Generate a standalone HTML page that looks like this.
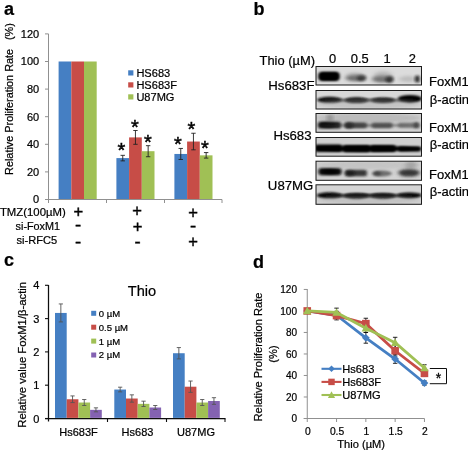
<!DOCTYPE html>
<html lang="en"><head><meta charset="utf-8"><title>Figure</title>
<style>html,body{margin:0;padding:0;background:#fff;}svg{display:block;}</style>
</head><body>
<svg width="468" height="451" viewBox="0 0 468 451" font-family="'Liberation Sans', Arial, sans-serif" fill="#000" xml:space="preserve">
<defs>
<filter id="b1" x="-30%" y="-60%" width="160%" height="220%"><feGaussianBlur stdDeviation="1.6 1.1"/></filter>
<filter id="b2" x="-30%" y="-60%" width="160%" height="220%"><feGaussianBlur stdDeviation="2.2 1.5"/></filter>
<filter id="tb" x="-5%" y="-5%" width="110%" height="110%"><feGaussianBlur stdDeviation="0.35"/></filter>
</defs>
<rect width="468" height="451" fill="#fff"/>
<g filter="url(#tb)">
<text x="4" y="14.5" font-size="18" text-anchor="start" font-weight="bold"  stroke="#000" stroke-width="0.22">a</text>
<text x="253.5" y="15" font-size="18" text-anchor="start" font-weight="bold"  stroke="#000" stroke-width="0.22">b</text>
<text x="4" y="266" font-size="18" text-anchor="start" font-weight="bold"  stroke="#000" stroke-width="0.22">c</text>
<text x="253" y="268" font-size="18" text-anchor="start" font-weight="bold"  stroke="#000" stroke-width="0.22">d</text>
<line x1="48.5" y1="33.900000000000006" x2="48.5" y2="199.5" stroke="#909090" stroke-width="1"/>
<line x1="45.0" y1="199.5" x2="222" y2="199.5" stroke="#909090" stroke-width="1"/>
<line x1="45.0" y1="199.5" x2="48.5" y2="199.5" stroke="#909090" stroke-width="1"/>
<text x="39.2" y="203.4" font-size="11" text-anchor="end" font-weight="normal"  stroke="#000" stroke-width="0.22">0</text>
<line x1="45.0" y1="171.9" x2="48.5" y2="171.9" stroke="#909090" stroke-width="1"/>
<text x="39.2" y="175.8" font-size="11" text-anchor="end" font-weight="normal"  stroke="#000" stroke-width="0.22">20</text>
<line x1="45.0" y1="144.3" x2="48.5" y2="144.3" stroke="#909090" stroke-width="1"/>
<text x="39.2" y="148.20000000000002" font-size="11" text-anchor="end" font-weight="normal"  stroke="#000" stroke-width="0.22">40</text>
<line x1="45.0" y1="116.7" x2="48.5" y2="116.7" stroke="#909090" stroke-width="1"/>
<text x="39.2" y="120.60000000000001" font-size="11" text-anchor="end" font-weight="normal"  stroke="#000" stroke-width="0.22">60</text>
<line x1="45.0" y1="89.10000000000001" x2="48.5" y2="89.10000000000001" stroke="#909090" stroke-width="1"/>
<text x="39.2" y="93.00000000000001" font-size="11" text-anchor="end" font-weight="normal"  stroke="#000" stroke-width="0.22">80</text>
<line x1="45.0" y1="61.5" x2="48.5" y2="61.5" stroke="#909090" stroke-width="1"/>
<text x="39.2" y="65.4" font-size="11" text-anchor="end" font-weight="normal"  stroke="#000" stroke-width="0.22">100</text>
<line x1="45.0" y1="33.900000000000006" x2="48.5" y2="33.900000000000006" stroke="#909090" stroke-width="1"/>
<text x="39.2" y="37.800000000000004" font-size="11" text-anchor="end" font-weight="normal"  stroke="#000" stroke-width="0.22">120</text>
<line x1="48.5" y1="199.5" x2="48.5" y2="203.0" stroke="#909090" stroke-width="1"/>
<line x1="106.5" y1="199.5" x2="106.5" y2="203.0" stroke="#909090" stroke-width="1"/>
<line x1="164.5" y1="199.5" x2="164.5" y2="203.0" stroke="#909090" stroke-width="1"/>
<line x1="222" y1="199.5" x2="222" y2="203.0" stroke="#909090" stroke-width="1"/>
<text transform="translate(13 174.9) rotate(-90)" font-size="10.85" text-anchor="start" stroke="#000" stroke-width="0.22">Relative Proliferation Rate</text>
<text transform="translate(13 40) rotate(-90)" font-size="10.85" text-anchor="start" stroke="#000" stroke-width="0.22">(%)</text>
<rect x="58.60" y="61.50" width="12.70" height="137.50" fill="#447fc3" />
<rect x="71.30" y="61.50" width="12.70" height="137.50" fill="#c74d47" />
<rect x="84.00" y="61.50" width="12.70" height="137.50" fill="#a0c054" />
<rect x="116.40" y="158.10" width="12.70" height="40.90" fill="#447fc3" />
<line x1="122.75" y1="155.34" x2="122.75" y2="160.86" stroke="#222" stroke-width="0.9"/>
<line x1="120.55" y1="155.34" x2="124.95" y2="155.34" stroke="#222" stroke-width="0.9"/>
<line x1="120.55" y1="160.86" x2="124.95" y2="160.86" stroke="#222" stroke-width="0.9"/>
<rect x="129.10" y="137.40" width="12.70" height="61.60" fill="#c74d47" />
<line x1="135.45" y1="130.5" x2="135.45" y2="144.3" stroke="#222" stroke-width="0.9"/>
<line x1="133.25" y1="130.5" x2="137.64999999999998" y2="130.5" stroke="#222" stroke-width="0.9"/>
<line x1="133.25" y1="144.3" x2="137.64999999999998" y2="144.3" stroke="#222" stroke-width="0.9"/>
<rect x="141.80" y="151.20" width="12.70" height="47.80" fill="#a0c054" />
<line x1="148.15" y1="145.68" x2="148.15" y2="156.72" stroke="#222" stroke-width="0.9"/>
<line x1="145.95000000000002" y1="145.68" x2="150.35" y2="145.68" stroke="#222" stroke-width="0.9"/>
<line x1="145.95000000000002" y1="156.72" x2="150.35" y2="156.72" stroke="#222" stroke-width="0.9"/>
<rect x="174.40" y="153.96" width="12.70" height="45.04" fill="#447fc3" />
<line x1="180.75" y1="148.44" x2="180.75" y2="159.48000000000002" stroke="#222" stroke-width="0.9"/>
<line x1="178.55" y1="148.44" x2="182.95" y2="148.44" stroke="#222" stroke-width="0.9"/>
<line x1="178.55" y1="159.48000000000002" x2="182.95" y2="159.48000000000002" stroke="#222" stroke-width="0.9"/>
<rect x="187.10" y="141.54" width="12.70" height="57.46" fill="#c74d47" />
<line x1="193.45" y1="133.26" x2="193.45" y2="149.82" stroke="#222" stroke-width="0.9"/>
<line x1="191.25" y1="133.26" x2="195.64999999999998" y2="133.26" stroke="#222" stroke-width="0.9"/>
<line x1="191.25" y1="149.82" x2="195.64999999999998" y2="149.82" stroke="#222" stroke-width="0.9"/>
<rect x="199.80" y="155.34" width="12.70" height="43.66" fill="#a0c054" />
<line x1="206.15" y1="152.58" x2="206.15" y2="158.1" stroke="#222" stroke-width="0.9"/>
<line x1="203.95000000000002" y1="152.58" x2="208.35" y2="152.58" stroke="#222" stroke-width="0.9"/>
<line x1="203.95000000000002" y1="158.1" x2="208.35" y2="158.1" stroke="#222" stroke-width="0.9"/>
<text x="121.5" y="157.35" font-size="20" text-anchor="middle" font-weight="normal" stroke="#000" stroke-width="0.45">*</text>
<text x="135" y="133.6" font-size="20" text-anchor="middle" font-weight="normal" stroke="#000" stroke-width="0.45">*</text>
<text x="148" y="148.6" font-size="20" text-anchor="middle" font-weight="normal" stroke="#000" stroke-width="0.45">*</text>
<text x="178" y="150.6" font-size="20" text-anchor="middle" font-weight="normal" stroke="#000" stroke-width="0.45">*</text>
<text x="191.5" y="135.6" font-size="20" text-anchor="middle" font-weight="normal" stroke="#000" stroke-width="0.45">*</text>
<text x="205" y="154.6" font-size="20" text-anchor="middle" font-weight="normal" stroke="#000" stroke-width="0.45">*</text>
<rect x="128.20" y="70.30" width="5.20" height="5.20" fill="#447fc3" />
<text x="136.4" y="76.80000000000001" font-size="11.05" text-anchor="start" font-weight="normal"  stroke="#000" stroke-width="0.22">HS683</text>
<rect x="128.20" y="82.30" width="5.20" height="5.20" fill="#c74d47" />
<text x="136.4" y="88.80000000000001" font-size="11.05" text-anchor="start" font-weight="normal"  stroke="#000" stroke-width="0.22">HS683F</text>
<rect x="128.20" y="94.30" width="5.20" height="5.20" fill="#a0c054" />
<text x="136.4" y="100.80000000000001" font-size="11.05" text-anchor="start" font-weight="normal"  stroke="#000" stroke-width="0.22">U87MG</text>
<text x="65.7" y="215.7" font-size="11.35" text-anchor="end" font-weight="normal"  stroke="#000" stroke-width="0.22">TMZ(100µM)</text>
<text x="60" y="229.8" font-size="10.8" text-anchor="end" font-weight="normal"  stroke="#000" stroke-width="0.22">si-FoxM1</text>
<text x="57.2" y="244.2" font-size="11.1" text-anchor="end" font-weight="normal"  stroke="#000" stroke-width="0.22">si-RFC5</text>
<text x="78.2" y="217.10000000000002" font-size="16.5" text-anchor="middle" font-weight="normal" stroke="#111" stroke-width="0.5">+</text>
<text x="78" y="231.4" font-size="18.5" text-anchor="middle" font-weight="normal" stroke="#111" stroke-width="0.5">-</text>
<text x="78" y="247.9" font-size="18.5" text-anchor="middle" font-weight="normal" stroke="#111" stroke-width="0.5">-</text>
<text x="137" y="216.3" font-size="16.5" text-anchor="middle" font-weight="normal" stroke="#111" stroke-width="0.5">+</text>
<text x="137.5" y="232.3" font-size="16.5" text-anchor="middle" font-weight="normal" stroke="#111" stroke-width="0.5">+</text>
<text x="137.5" y="247.9" font-size="18.5" text-anchor="middle" font-weight="normal" stroke="#111" stroke-width="0.5">-</text>
<text x="193" y="218.3" font-size="16.5" text-anchor="middle" font-weight="normal" stroke="#111" stroke-width="0.5">+</text>
<text x="193" y="231.9" font-size="18.5" text-anchor="middle" font-weight="normal" stroke="#111" stroke-width="0.5">-</text>
<text x="193" y="247.10000000000002" font-size="16.5" text-anchor="middle" font-weight="normal" stroke="#111" stroke-width="0.5">+</text>
<text x="315" y="64.7" font-size="12.9" text-anchor="end" font-weight="normal"  stroke="#000" stroke-width="0.22">Thio (µM)</text>
<text x="332.7" y="62.9" font-size="12.9" text-anchor="middle" font-weight="normal"  stroke="#000" stroke-width="0.22">0</text>
<text x="359.7" y="62.9" font-size="12.9" text-anchor="middle" font-weight="normal"  stroke="#000" stroke-width="0.22">0.5</text>
<text x="387" y="62.9" font-size="12.9" text-anchor="middle" font-weight="normal"  stroke="#000" stroke-width="0.22">1</text>
<text x="412.4" y="62.9" font-size="12.9" text-anchor="middle" font-weight="normal"  stroke="#000" stroke-width="0.22">2</text>
<text x="314.5" y="90" font-size="13.2" text-anchor="end" font-weight="normal"  stroke="#000" stroke-width="0.22">Hs683F</text>
<text x="311.5" y="139.5" font-size="13.2" text-anchor="end" font-weight="normal"  stroke="#000" stroke-width="0.22">Hs683</text>
<text x="313.3" y="190" font-size="13.2" text-anchor="end" font-weight="normal"  stroke="#000" stroke-width="0.22">U87MG</text>
<text x="429.1" y="86.4" font-size="13" text-anchor="start" font-weight="normal"  stroke="#000" stroke-width="0.22">FoxM1</text>
<text x="429.8" y="103.8" font-size="13" text-anchor="start" font-weight="normal"  stroke="#000" stroke-width="0.22">β-actin</text>
<text x="429.1" y="131.70000000000002" font-size="13" text-anchor="start" font-weight="normal"  stroke="#000" stroke-width="0.22">FoxM1</text>
<text x="429.8" y="148.8" font-size="13" text-anchor="start" font-weight="normal"  stroke="#000" stroke-width="0.22">β-actin</text>
<text x="429.1" y="179.20000000000002" font-size="13" text-anchor="start" font-weight="normal"  stroke="#000" stroke-width="0.22">FoxM1</text>
<text x="429.8" y="196.3" font-size="13" text-anchor="start" font-weight="normal"  stroke="#000" stroke-width="0.22">β-actin</text>
</g>
<clipPath id="c0"><rect x="316" y="66.5" width="105.5" height="18.5"/></clipPath>
<rect x="316" y="66.5" width="105.5" height="18.5" fill="#dcdcdc"/>
<g clip-path="url(#c0)">
<rect x="318.5" y="71.7" width="21.0" height="9.2" rx="3.6799999999999997" fill="#000" opacity="1" filter="url(#b1)"/>
<rect x="320" y="72.89999999999999" width="18" height="6.8" rx="2.72" fill="#000" opacity="1" filter="url(#b1)"/>
<ellipse cx="355.5" cy="78" rx="10" ry="3.3" fill="#3a3a3a" opacity="0.7" filter="url(#b2)"/>
<ellipse cx="361.5" cy="78" rx="4.5" ry="3.2" fill="#111" opacity="0.6" filter="url(#b1)"/>
<ellipse cx="355" cy="75" rx="9" ry="3" fill="#888" opacity="0.3" filter="url(#b2)"/>
<ellipse cx="382" cy="79" rx="10" ry="3.6" fill="#444" opacity="0.7" filter="url(#b2)"/>
<ellipse cx="389.5" cy="79.3" rx="4" ry="3.6" fill="#111" opacity="0.7" filter="url(#b1)"/>
<ellipse cx="383" cy="75" rx="9" ry="4" fill="#888" opacity="0.35" filter="url(#b2)"/>
<ellipse cx="408" cy="79" rx="9" ry="3" fill="#777" opacity="0.3" filter="url(#b2)"/>
<ellipse cx="417.3" cy="79" rx="2.4" ry="3.8" fill="#111" opacity="0.85" filter="url(#b1)"/>
</g>
<rect x="316" y="66.5" width="105.5" height="18.5" fill="none" stroke="#1a1a1a" stroke-width="1" filter="url(#tb)"/>
<clipPath id="c1"><rect x="316" y="90.5" width="105.5" height="18.5"/></clipPath>
<rect x="316" y="90.5" width="105.5" height="18.5" fill="#d8d8d8"/>
<g clip-path="url(#c1)">
<ellipse cx="329.5" cy="99.8" rx="12.5" ry="3.0" fill="#111" opacity="1" filter="url(#b1)"/>
<ellipse cx="356.5" cy="100.2" rx="12" ry="2.9" fill="#111" opacity="1" filter="url(#b1)"/>
<ellipse cx="383" cy="100.2" rx="12" ry="2.8" fill="#111" opacity="1" filter="url(#b1)"/>
<ellipse cx="410" cy="98.8" rx="12" ry="3.9" fill="#050505" opacity="1" filter="url(#b1)"/>
<ellipse cx="369" cy="100.2" rx="50" ry="1.4" fill="#222" opacity="0.8" filter="url(#b1)"/>
<ellipse cx="369" cy="104" rx="52" ry="5" fill="#999" opacity="0.3" filter="url(#b2)"/>
</g>
<rect x="316" y="90.5" width="105.5" height="18.5" fill="none" stroke="#1a1a1a" stroke-width="1" filter="url(#tb)"/>
<clipPath id="c2"><rect x="316" y="113.5" width="105.5" height="18.80000000000001"/></clipPath>
<rect x="316" y="113.5" width="105.5" height="18.80000000000001" fill="#d2d2d2"/>
<g clip-path="url(#c2)">
<rect x="318.0" y="121.4" width="23.0" height="7.2" rx="2.8800000000000003" fill="#111" opacity="0.95" filter="url(#b1)"/>
<ellipse cx="328" cy="125" rx="8" ry="2.8" fill="#000" opacity="0.7" filter="url(#b1)"/>
<rect x="345" y="122.3" width="22" height="6.0" rx="2.4000000000000004" fill="#222" opacity="0.8" filter="url(#b1)"/>
<ellipse cx="349" cy="125.3" rx="4.5" ry="3.2" fill="#111" opacity="0.7" filter="url(#b1)"/>
<rect x="371.5" y="122.39999999999999" width="21.0" height="5.8" rx="2.32" fill="#333" opacity="0.75" filter="url(#b1)"/>
<rect x="398.0" y="122.5" width="21.0" height="5.6" rx="2.2399999999999998" fill="#444" opacity="0.55" filter="url(#b1)"/>
<ellipse cx="416.5" cy="125.3" rx="3" ry="3.2" fill="#222" opacity="0.6" filter="url(#b1)"/>
<ellipse cx="369" cy="125.3" rx="50" ry="1.6" fill="#444" opacity="0.5" filter="url(#b1)"/>
<ellipse cx="369" cy="118" rx="52" ry="5" fill="#999" opacity="0.4" filter="url(#b2)"/>
<ellipse cx="330" cy="118" rx="3" ry="4" fill="#666" opacity="0.5" filter="url(#b2)"/>
</g>
<rect x="316" y="113.5" width="105.5" height="18.80000000000001" fill="none" stroke="#1a1a1a" stroke-width="1" filter="url(#tb)"/>
<clipPath id="c3"><rect x="316" y="137.5" width="105.5" height="18.69999999999999"/></clipPath>
<rect x="316" y="137.5" width="105.5" height="18.69999999999999" fill="#cfcfcf"/>
<g clip-path="url(#c3)">
<rect x="314.5" y="144.5" width="28" height="7.4" rx="2.9600000000000004" fill="#000" opacity="1" filter="url(#b1)"/>
<rect x="342.5" y="144.9" width="28" height="7.4" rx="2.9600000000000004" fill="#000" opacity="1" filter="url(#b1)"/>
<rect x="370" y="145.1" width="26" height="7.0" rx="2.8000000000000003" fill="#000" opacity="1" filter="url(#b1)"/>
<rect x="398.0" y="146.4" width="23.0" height="5.2" rx="2.08" fill="#000" opacity="1" filter="url(#b1)"/>
<ellipse cx="369" cy="148.6" rx="52" ry="2.6" fill="#000" opacity="1" filter="url(#b1)"/>
</g>
<rect x="316" y="137.5" width="105.5" height="18.69999999999999" fill="none" stroke="#1a1a1a" stroke-width="1" filter="url(#tb)"/>
<clipPath id="c4"><rect x="316" y="161.2" width="105.5" height="19.100000000000023"/></clipPath>
<rect x="316" y="161.2" width="105.5" height="19.100000000000023" fill="#d3d3d3"/>
<g clip-path="url(#c4)">
<rect x="318.5" y="168.0" width="23.0" height="7.2" rx="2.8800000000000003" fill="#0a0a0a" opacity="1" filter="url(#b1)"/>
<ellipse cx="330" cy="171.6" rx="8" ry="2.6" fill="#000" opacity="0.8" filter="url(#b1)"/>
<rect x="345" y="169.8" width="22" height="6.4" rx="2.5600000000000005" fill="#1a1a1a" opacity="0.85" filter="url(#b1)"/>
<ellipse cx="350" cy="173.2" rx="5" ry="3" fill="#111" opacity="0.6" filter="url(#b1)"/>
<ellipse cx="382" cy="173.5" rx="10" ry="2.9" fill="#444" opacity="0.7" filter="url(#b1)"/>
<ellipse cx="377" cy="173.5" rx="3.8" ry="2.6" fill="#222" opacity="0.55" filter="url(#b1)"/>
<ellipse cx="409" cy="172.8" rx="11" ry="4.0" fill="#333" opacity="0.8" filter="url(#b2)"/>
<ellipse cx="409" cy="172.8" rx="9" ry="2.4" fill="#222" opacity="0.6" filter="url(#b1)"/>
<ellipse cx="369" cy="165" rx="52" ry="4" fill="#aaa" opacity="0.35" filter="url(#b2)"/>
<ellipse cx="411" cy="165" rx="6" ry="4" fill="#777" opacity="0.4" filter="url(#b2)"/>
</g>
<rect x="316" y="161.2" width="105.5" height="19.100000000000023" fill="none" stroke="#1a1a1a" stroke-width="1" filter="url(#tb)"/>
<clipPath id="c5"><rect x="316" y="184.8" width="105.5" height="19.5"/></clipPath>
<rect x="316" y="184.8" width="105.5" height="19.5" fill="#d4d4d4"/>
<g clip-path="url(#c5)">
<ellipse cx="329.5" cy="195.3" rx="13" ry="3.0" fill="#0a0a0a" opacity="1" filter="url(#b1)"/>
<ellipse cx="356.5" cy="195.8" rx="13" ry="2.9" fill="#0a0a0a" opacity="1" filter="url(#b1)"/>
<ellipse cx="383" cy="195.8" rx="13" ry="2.9" fill="#0a0a0a" opacity="1" filter="url(#b1)"/>
<ellipse cx="409.5" cy="195.3" rx="12.5" ry="2.9" fill="#0a0a0a" opacity="1" filter="url(#b1)"/>
<ellipse cx="369" cy="195.7" rx="50" ry="1.6" fill="#111" opacity="0.9" filter="url(#b1)"/>
<ellipse cx="369" cy="200" rx="52" ry="4" fill="#999" opacity="0.3" filter="url(#b2)"/>
</g>
<rect x="316" y="184.8" width="105.5" height="19.5" fill="none" stroke="#1a1a1a" stroke-width="1" filter="url(#tb)"/>
<g filter="url(#tb)">
<line x1="48.5" y1="285" x2="48.5" y2="421.5" stroke="#111" stroke-width="1.25"/>
<line x1="45.0" y1="418.5" x2="225.5" y2="418.5" stroke="#111" stroke-width="1.25"/>
<line x1="45.0" y1="418.5" x2="48.5" y2="418.5" stroke="#111" stroke-width="1.1"/>
<text x="39.4" y="422.5" font-size="11" text-anchor="end" font-weight="normal"  stroke="#000" stroke-width="0.22">0</text>
<line x1="45.0" y1="385.2" x2="48.5" y2="385.2" stroke="#111" stroke-width="1.1"/>
<text x="39.4" y="389.2" font-size="11" text-anchor="end" font-weight="normal"  stroke="#000" stroke-width="0.22">1</text>
<line x1="45.0" y1="351.9" x2="48.5" y2="351.9" stroke="#111" stroke-width="1.1"/>
<text x="39.4" y="355.9" font-size="11" text-anchor="end" font-weight="normal"  stroke="#000" stroke-width="0.22">2</text>
<line x1="45.0" y1="318.6" x2="48.5" y2="318.6" stroke="#111" stroke-width="1.1"/>
<text x="39.4" y="322.6" font-size="11" text-anchor="end" font-weight="normal"  stroke="#000" stroke-width="0.22">3</text>
<line x1="45.0" y1="285.3" x2="48.5" y2="285.3" stroke="#111" stroke-width="1.1"/>
<text x="39.4" y="289.3" font-size="11" text-anchor="end" font-weight="normal"  stroke="#000" stroke-width="0.22">4</text>
<line x1="107.5" y1="418.5" x2="107.5" y2="422.0" stroke="#111" stroke-width="1.1"/>
<line x1="166.5" y1="418.5" x2="166.5" y2="422.0" stroke="#111" stroke-width="1.1"/>
<line x1="225" y1="418.5" x2="225" y2="422.0" stroke="#111" stroke-width="1.1"/>
<text transform="translate(26 354.8) rotate(-90)" font-size="11.3" text-anchor="middle" stroke="#000" stroke-width="0.22">Relative value FoxM1/β-actin</text>
<rect x="55.00" y="312.94" width="11.70" height="104.96" fill="#447fc3" />
<line x1="60.85" y1="303.948" x2="60.85" y2="321.93" stroke="#555" stroke-width="0.9"/>
<line x1="58.75" y1="303.948" x2="62.95" y2="303.948" stroke="#555" stroke-width="0.9"/>
<line x1="58.75" y1="321.93" x2="62.95" y2="321.93" stroke="#555" stroke-width="0.9"/>
<rect x="66.70" y="399.25" width="11.70" height="18.65" fill="#c74d47" />
<line x1="72.55" y1="395.9226" x2="72.55" y2="402.5826" stroke="#555" stroke-width="0.9"/>
<line x1="70.45" y1="395.9226" x2="74.64999999999999" y2="395.9226" stroke="#555" stroke-width="0.9"/>
<line x1="70.45" y1="402.5826" x2="74.64999999999999" y2="402.5826" stroke="#555" stroke-width="0.9"/>
<rect x="78.40" y="402.52" width="11.70" height="15.38" fill="#a0c054" />
<line x1="84.25" y1="399.519" x2="84.25" y2="405.513" stroke="#555" stroke-width="0.9"/>
<line x1="82.15" y1="399.519" x2="86.35" y2="399.519" stroke="#555" stroke-width="0.9"/>
<line x1="82.15" y1="405.513" x2="86.35" y2="405.513" stroke="#555" stroke-width="0.9"/>
<rect x="90.10" y="409.84" width="11.70" height="8.06" fill="#8462b2" />
<line x1="95.94999999999999" y1="407.844" x2="95.94999999999999" y2="411.84" stroke="#555" stroke-width="0.9"/>
<line x1="93.85" y1="407.844" x2="98.04999999999998" y2="407.844" stroke="#555" stroke-width="0.9"/>
<line x1="93.85" y1="411.84" x2="98.04999999999998" y2="411.84" stroke="#555" stroke-width="0.9"/>
<rect x="114.30" y="389.53" width="11.70" height="28.37" fill="#447fc3" />
<line x1="120.14999999999999" y1="387.198" x2="120.14999999999999" y2="391.86" stroke="#555" stroke-width="0.9"/>
<line x1="118.05" y1="387.198" x2="122.24999999999999" y2="387.198" stroke="#555" stroke-width="0.9"/>
<line x1="118.05" y1="391.86" x2="122.24999999999999" y2="391.86" stroke="#555" stroke-width="0.9"/>
<rect x="126.00" y="398.52" width="11.70" height="19.38" fill="#c74d47" />
<line x1="131.85" y1="394.857" x2="131.85" y2="402.183" stroke="#555" stroke-width="0.9"/>
<line x1="129.75" y1="394.857" x2="133.95" y2="394.857" stroke="#555" stroke-width="0.9"/>
<line x1="129.75" y1="402.183" x2="133.95" y2="402.183" stroke="#555" stroke-width="0.9"/>
<rect x="137.70" y="403.85" width="11.70" height="14.05" fill="#a0c054" />
<line x1="143.54999999999998" y1="401.184" x2="143.54999999999998" y2="406.512" stroke="#555" stroke-width="0.9"/>
<line x1="141.45" y1="401.184" x2="145.64999999999998" y2="401.184" stroke="#555" stroke-width="0.9"/>
<line x1="141.45" y1="406.512" x2="145.64999999999998" y2="406.512" stroke="#555" stroke-width="0.9"/>
<rect x="149.40" y="407.51" width="11.70" height="10.39" fill="#8462b2" />
<line x1="155.24999999999997" y1="405.513" x2="155.24999999999997" y2="409.509" stroke="#555" stroke-width="0.9"/>
<line x1="153.14999999999998" y1="405.513" x2="157.34999999999997" y2="405.513" stroke="#555" stroke-width="0.9"/>
<line x1="153.14999999999998" y1="409.509" x2="157.34999999999997" y2="409.509" stroke="#555" stroke-width="0.9"/>
<rect x="173.00" y="353.23" width="11.70" height="64.67" fill="#447fc3" />
<line x1="178.85" y1="347.571" x2="178.85" y2="358.89300000000003" stroke="#555" stroke-width="0.9"/>
<line x1="176.75" y1="347.571" x2="180.95" y2="347.571" stroke="#555" stroke-width="0.9"/>
<line x1="176.75" y1="358.89300000000003" x2="180.95" y2="358.89300000000003" stroke="#555" stroke-width="0.9"/>
<rect x="184.70" y="386.70" width="11.70" height="31.20" fill="#c74d47" />
<line x1="190.54999999999998" y1="381.0375" x2="190.54999999999998" y2="392.3595" stroke="#555" stroke-width="0.9"/>
<line x1="188.45" y1="381.0375" x2="192.64999999999998" y2="381.0375" stroke="#555" stroke-width="0.9"/>
<line x1="188.45" y1="392.3595" x2="192.64999999999998" y2="392.3595" stroke="#555" stroke-width="0.9"/>
<rect x="196.40" y="402.52" width="11.70" height="15.38" fill="#a0c054" />
<line x1="202.25" y1="399.519" x2="202.25" y2="405.513" stroke="#555" stroke-width="0.9"/>
<line x1="200.15" y1="399.519" x2="204.35" y2="399.519" stroke="#555" stroke-width="0.9"/>
<line x1="200.15" y1="405.513" x2="204.35" y2="405.513" stroke="#555" stroke-width="0.9"/>
<rect x="208.10" y="401.02" width="11.70" height="16.88" fill="#8462b2" />
<line x1="213.95" y1="397.6875" x2="213.95" y2="404.3475" stroke="#555" stroke-width="0.9"/>
<line x1="211.85" y1="397.6875" x2="216.04999999999998" y2="397.6875" stroke="#555" stroke-width="0.9"/>
<line x1="211.85" y1="404.3475" x2="216.04999999999998" y2="404.3475" stroke="#555" stroke-width="0.9"/>
<text x="142" y="296.1" font-size="14.6" text-anchor="middle" font-weight="normal"  stroke="#000" stroke-width="0.22">Thio</text>
<rect x="91.20" y="310.80" width="5.00" height="5.00" fill="#447fc3" />
<text x="98.8" y="316.7" font-size="9.5" text-anchor="start" font-weight="normal"  stroke="#000" stroke-width="0.22">0 µM</text>
<rect x="91.20" y="324.70" width="5.00" height="5.00" fill="#c74d47" />
<text x="98.8" y="330.59999999999997" font-size="9.5" text-anchor="start" font-weight="normal"  stroke="#000" stroke-width="0.22">0.5 µM</text>
<rect x="91.20" y="338.60" width="5.00" height="5.00" fill="#a0c054" />
<text x="98.8" y="344.5" font-size="9.5" text-anchor="start" font-weight="normal"  stroke="#000" stroke-width="0.22">1 µM</text>
<rect x="91.20" y="352.50" width="5.00" height="5.00" fill="#8462b2" />
<text x="98.8" y="358.4" font-size="9.5" text-anchor="start" font-weight="normal"  stroke="#000" stroke-width="0.22">2 µM</text>
<text x="78.5" y="435.5" font-size="11" text-anchor="middle" font-weight="normal"  stroke="#000" stroke-width="0.22">Hs683F</text>
<text x="137.5" y="435.5" font-size="11" text-anchor="middle" font-weight="normal"  stroke="#000" stroke-width="0.22">Hs683</text>
<text x="196" y="435.5" font-size="11" text-anchor="middle" font-weight="normal"  stroke="#000" stroke-width="0.22">U87MG</text>
<line x1="307.25" y1="289" x2="307.25" y2="418.5" stroke="#909090" stroke-width="1"/>
<line x1="303.75" y1="418.5" x2="424.5" y2="418.5" stroke="#909090" stroke-width="1"/>
<line x1="303.75" y1="418.5" x2="307.25" y2="418.5" stroke="#909090" stroke-width="1"/>
<text x="297" y="422.1" font-size="10" text-anchor="end" font-weight="normal"  stroke="#000" stroke-width="0.22">0</text>
<line x1="303.75" y1="396.99" x2="307.25" y2="396.99" stroke="#909090" stroke-width="1"/>
<text x="297" y="400.59000000000003" font-size="10" text-anchor="end" font-weight="normal"  stroke="#000" stroke-width="0.22">20</text>
<line x1="303.75" y1="375.48" x2="307.25" y2="375.48" stroke="#909090" stroke-width="1"/>
<text x="297" y="379.08000000000004" font-size="10" text-anchor="end" font-weight="normal"  stroke="#000" stroke-width="0.22">40</text>
<line x1="303.75" y1="353.97" x2="307.25" y2="353.97" stroke="#909090" stroke-width="1"/>
<text x="297" y="357.57000000000005" font-size="10" text-anchor="end" font-weight="normal"  stroke="#000" stroke-width="0.22">60</text>
<line x1="303.75" y1="332.46000000000004" x2="307.25" y2="332.46000000000004" stroke="#909090" stroke-width="1"/>
<text x="297" y="336.06000000000006" font-size="10" text-anchor="end" font-weight="normal"  stroke="#000" stroke-width="0.22">80</text>
<line x1="303.75" y1="310.95000000000005" x2="307.25" y2="310.95000000000005" stroke="#909090" stroke-width="1"/>
<text x="297" y="314.55000000000007" font-size="10" text-anchor="end" font-weight="normal"  stroke="#000" stroke-width="0.22">100</text>
<line x1="303.75" y1="289.44" x2="307.25" y2="289.44" stroke="#909090" stroke-width="1"/>
<text x="297" y="293.04" font-size="10" text-anchor="end" font-weight="normal"  stroke="#000" stroke-width="0.22">120</text>
<line x1="307.25" y1="418.5" x2="307.25" y2="422.0" stroke="#909090" stroke-width="1"/>
<text x="307.75" y="434.5" font-size="10.3" text-anchor="middle" font-weight="normal"  stroke="#000" stroke-width="0.22">0</text>
<line x1="336.55" y1="418.5" x2="336.55" y2="422.0" stroke="#909090" stroke-width="1"/>
<text x="337.05" y="434.5" font-size="10.3" text-anchor="middle" font-weight="normal"  stroke="#000" stroke-width="0.22">0.5</text>
<line x1="365.85" y1="418.5" x2="365.85" y2="422.0" stroke="#909090" stroke-width="1"/>
<text x="366.35" y="434.5" font-size="10.3" text-anchor="middle" font-weight="normal"  stroke="#000" stroke-width="0.22">1</text>
<line x1="395.15" y1="418.5" x2="395.15" y2="422.0" stroke="#909090" stroke-width="1"/>
<text x="395.65" y="434.5" font-size="10.3" text-anchor="middle" font-weight="normal"  stroke="#000" stroke-width="0.22">1.5</text>
<line x1="424.45" y1="418.5" x2="424.45" y2="422.0" stroke="#909090" stroke-width="1"/>
<text x="424.95" y="434.5" font-size="10.3" text-anchor="middle" font-weight="normal"  stroke="#000" stroke-width="0.22">2</text>
<text x="361.2" y="447.5" font-size="11.1" text-anchor="middle" font-weight="normal"  stroke="#000" stroke-width="0.22">Thio (µM)</text>
<text transform="translate(262 357) rotate(-90)" font-size="11.1" text-anchor="middle" stroke="#000" stroke-width="0.22">Relative Proliferation Rate</text>
<text transform="translate(276.7 354) rotate(-90)" font-size="11.1" text-anchor="middle" stroke="#000" stroke-width="0.22">(%)</text>
<line x1="336.55" y1="312.0255" x2="336.55" y2="318.4785" stroke="#111" stroke-width="0.9"/>
<line x1="334.35" y1="312.0255" x2="338.75" y2="312.0255" stroke="#111" stroke-width="0.9"/>
<line x1="334.35" y1="318.4785" x2="338.75" y2="318.4785" stroke="#111" stroke-width="0.9"/>
<line x1="365.85" y1="332.46000000000004" x2="365.85" y2="343.21500000000003" stroke="#111" stroke-width="0.9"/>
<line x1="363.65000000000003" y1="332.46000000000004" x2="368.05" y2="332.46000000000004" stroke="#111" stroke-width="0.9"/>
<line x1="363.65000000000003" y1="343.21500000000003" x2="368.05" y2="343.21500000000003" stroke="#111" stroke-width="0.9"/>
<line x1="395.15" y1="354.72285" x2="395.15" y2="363.32685000000004" stroke="#111" stroke-width="0.9"/>
<line x1="392.95" y1="354.72285" x2="397.34999999999997" y2="354.72285" stroke="#111" stroke-width="0.9"/>
<line x1="392.95" y1="363.32685000000004" x2="397.34999999999997" y2="363.32685000000004" stroke="#111" stroke-width="0.9"/>
<line x1="424.45" y1="380.8575" x2="424.45" y2="385.1595" stroke="#111" stroke-width="0.9"/>
<line x1="422.25" y1="380.8575" x2="426.65" y2="380.8575" stroke="#111" stroke-width="0.9"/>
<line x1="422.25" y1="385.1595" x2="426.65" y2="385.1595" stroke="#111" stroke-width="0.9"/>
<line x1="336.55" y1="311.27265" x2="336.55" y2="319.87665000000004" stroke="#111" stroke-width="0.9"/>
<line x1="334.35" y1="311.27265" x2="338.75" y2="311.27265" stroke="#111" stroke-width="0.9"/>
<line x1="334.35" y1="319.87665000000004" x2="338.75" y2="319.87665000000004" stroke="#111" stroke-width="0.9"/>
<line x1="365.85" y1="318.2634" x2="365.85" y2="329.0184" stroke="#111" stroke-width="0.9"/>
<line x1="363.65000000000003" y1="318.2634" x2="368.05" y2="318.2634" stroke="#111" stroke-width="0.9"/>
<line x1="363.65000000000003" y1="329.0184" x2="368.05" y2="329.0184" stroke="#111" stroke-width="0.9"/>
<line x1="395.15" y1="345.366" x2="395.15" y2="356.121" stroke="#111" stroke-width="0.9"/>
<line x1="392.95" y1="345.366" x2="397.34999999999997" y2="345.366" stroke="#111" stroke-width="0.9"/>
<line x1="392.95" y1="356.121" x2="397.34999999999997" y2="356.121" stroke="#111" stroke-width="0.9"/>
<line x1="424.45" y1="370.1025" x2="424.45" y2="376.5555" stroke="#111" stroke-width="0.9"/>
<line x1="422.25" y1="370.1025" x2="426.65" y2="370.1025" stroke="#111" stroke-width="0.9"/>
<line x1="422.25" y1="376.5555" x2="426.65" y2="376.5555" stroke="#111" stroke-width="0.9"/>
<line x1="336.55" y1="308.1537" x2="336.55" y2="316.7577" stroke="#111" stroke-width="0.9"/>
<line x1="334.35" y1="308.1537" x2="338.75" y2="308.1537" stroke="#111" stroke-width="0.9"/>
<line x1="334.35" y1="316.7577" x2="338.75" y2="316.7577" stroke="#111" stroke-width="0.9"/>
<line x1="365.85" y1="323.856" x2="365.85" y2="332.46000000000004" stroke="#111" stroke-width="0.9"/>
<line x1="363.65000000000003" y1="323.856" x2="368.05" y2="323.856" stroke="#111" stroke-width="0.9"/>
<line x1="363.65000000000003" y1="332.46000000000004" x2="368.05" y2="332.46000000000004" stroke="#111" stroke-width="0.9"/>
<line x1="395.15" y1="337.29975" x2="395.15" y2="348.05475" stroke="#111" stroke-width="0.9"/>
<line x1="392.95" y1="337.29975" x2="397.34999999999997" y2="337.29975" stroke="#111" stroke-width="0.9"/>
<line x1="392.95" y1="348.05475" x2="397.34999999999997" y2="348.05475" stroke="#111" stroke-width="0.9"/>
<line x1="424.45" y1="364.725" x2="424.45" y2="371.178" stroke="#111" stroke-width="0.9"/>
<line x1="422.25" y1="364.725" x2="426.65" y2="364.725" stroke="#111" stroke-width="0.9"/>
<line x1="422.25" y1="371.178" x2="426.65" y2="371.178" stroke="#111" stroke-width="0.9"/>
<polyline fill="none" stroke="#447fc3" stroke-width="2.8" stroke-linejoin="round" points="307.25,310.95 336.55,315.25 365.85,337.84 395.15,359.02 424.45,383.01"/>
<path d="M303.35 310.95 L307.25 307.05 L311.15 310.95 L307.25 314.85Z" fill="#447fc3"/>
<path d="M332.65 315.25 L336.55 311.35 L340.45 315.25 L336.55 319.15Z" fill="#447fc3"/>
<path d="M361.95 337.84 L365.85 333.94 L369.75 337.84 L365.85 341.74Z" fill="#447fc3"/>
<path d="M391.25 359.02 L395.15 355.12 L399.05 359.02 L395.15 362.92Z" fill="#447fc3"/>
<path d="M420.55 383.01 L424.45 379.11 L428.35 383.01 L424.45 386.91Z" fill="#447fc3"/>
<polyline fill="none" stroke="#c74d47" stroke-width="2.8" stroke-linejoin="round" points="307.25,310.95 336.55,315.57 365.85,323.64 395.15,350.74 424.45,373.33"/>
<rect x="303.45" y="307.15" width="7.60" height="7.60" fill="#c74d47" />
<rect x="332.75" y="311.77" width="7.60" height="7.60" fill="#c74d47" />
<rect x="362.05" y="319.84" width="7.60" height="7.60" fill="#c74d47" />
<rect x="391.35" y="346.94" width="7.60" height="7.60" fill="#c74d47" />
<rect x="420.65" y="369.53" width="7.60" height="7.60" fill="#c74d47" />
<polyline fill="none" stroke="#a0c054" stroke-width="2.8" stroke-linejoin="round" points="307.25,310.95 336.55,312.46 365.85,328.16 395.15,342.68 424.45,367.95"/>
<path d="M303.05 314.35 L307.25 306.65 L311.45 314.35Z" fill="#a0c054"/>
<path d="M332.35 315.86 L336.55 308.16 L340.75 315.86Z" fill="#a0c054"/>
<path d="M361.65 331.56 L365.85 323.86 L370.05 331.56Z" fill="#a0c054"/>
<path d="M390.95 346.08 L395.15 338.38 L399.35 346.08Z" fill="#a0c054"/>
<path d="M420.25 371.35 L424.45 363.65 L428.65 371.35Z" fill="#a0c054"/>
<line x1="321.5" y1="368.8" x2="341.5" y2="368.8" stroke="#447fc3" stroke-width="2.1"/>
<path d="M328.19 368.80 L331.50 365.49 L334.81 368.80 L331.50 372.12Z" fill="#447fc3"/>
<text x="342.3" y="372.7" font-size="11.1" text-anchor="start" font-weight="normal"  stroke="#000" stroke-width="0.22">Hs683</text>
<line x1="321.5" y1="381.90000000000003" x2="341.5" y2="381.90000000000003" stroke="#c74d47" stroke-width="2.1"/>
<rect x="328.27" y="378.67" width="6.46" height="6.46" fill="#c74d47" />
<text x="342.3" y="385.8" font-size="11.1" text-anchor="start" font-weight="normal"  stroke="#000" stroke-width="0.22">Hs683F</text>
<line x1="321.5" y1="395.0" x2="341.5" y2="395.0" stroke="#a0c054" stroke-width="2.1"/>
<path d="M327.93 397.89 L331.50 391.35 L335.07 397.89Z" fill="#a0c054"/>
<text x="342.3" y="398.9" font-size="11.1" text-anchor="start" font-weight="normal"  stroke="#000" stroke-width="0.22">U87MG</text>
<path d="M429.8 368.5 H446.5 V383.7 H429.8" fill="none" stroke="#111" stroke-width="1"/>
<text x="438.6" y="382.8" font-size="14" text-anchor="middle" font-weight="normal" stroke="#000" stroke-width="0.3">*</text>
</g>
</svg>
</body></html>
